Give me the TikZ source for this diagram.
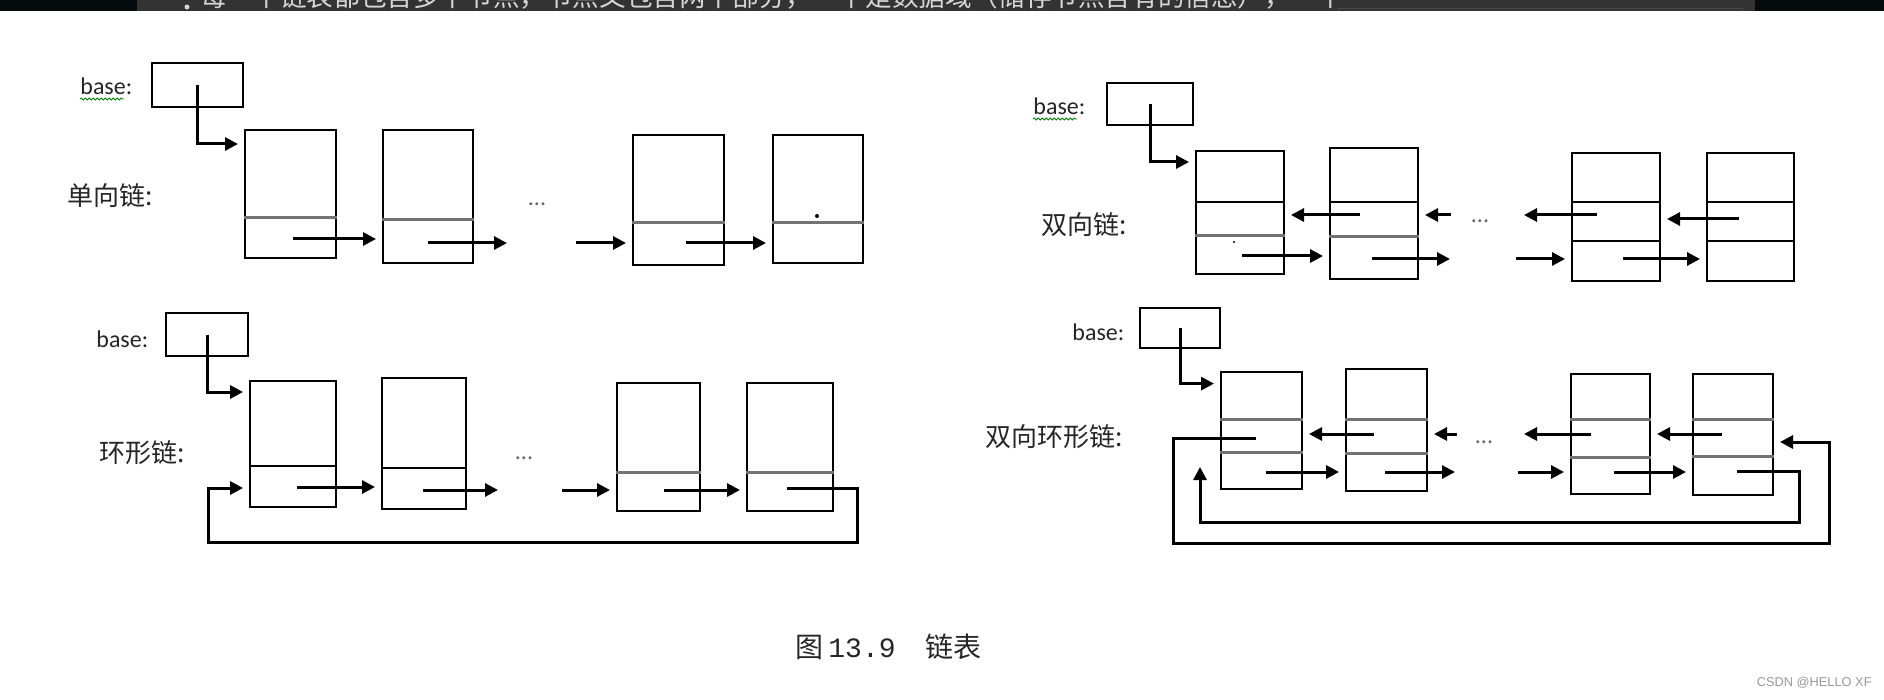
\documentclass[tikz,border=0pt]{standalone}
\usepackage{fontspec}
\setmainfont{Carlito}
\newfontfamily\cjk{Noto Sans CJK SC}
\newfontfamily\mono{Liberation Mono}
\newfontfamily\wm{Liberation Sans}
\usetikzlibrary{arrows.meta,decorations.pathmorphing}
\definecolor{edgec}{HTML}{050B0D}
\definecolor{barc}{HTML}{333333}
\definecolor{barline}{HTML}{474747}
\definecolor{bartext}{HTML}{D6D6D6}

\begin{document}
\begin{tikzpicture}[
  x = 0.5pt, y = -0.5pt,
  cell/.style 2 args = {draw, line width = 1pt, anchor = north west, inner sep = 0,
                        minimum width = #1*0.5pt, minimum height = #2*0.5pt},
  sep/.style = {line width = 1.5pt, black!55},
  div/.style = {line width = 1pt},
  ptr/.style = {line width = 1.5pt, -{Triangle[length = 6.5pt, width = 6.5pt]}},
  gap/.style = {shorten > = 3pt},
  tag/.style = {inner sep = 0, anchor = base west, text = black!85,
                font = \fontsize{12pt}{14pt}\selectfont},
  lab/.style = {inner sep = 0, anchor = west, text = black!85,
                font = \cjk\fontsize{13pt}{15pt}\selectfont},
  more/.style = {inner sep = 0, anchor = base, text = black!60,
                 font = \fontsize{12pt}{14pt}\selectfont},
  squig/.style = {green!50!black, line width = 0.4pt, decorate,
                  decoration = {snake, amplitude = 0.5pt, segment length = 2pt}}
  ]
  \useasboundingbox (0,0) rectangle (1884,700);
  \fill[white] (0,0) rectangle (1884,700);

  % top bar
  \begin{scope}
    \clip (0,0) rectangle (1884,11);
    \fill[edgec] (0,0) rectangle (1884,11);
    \fill[barc] (137,0) rectangle (1755,11);
    \draw[barline] (1338,11) -- (1338,8) -- (1742,8) -- (1742,11);
    \fill[bartext] (187,7) circle (2.5);
    \node[anchor = base west, inner sep = 0, text = bartext,
          font = \cjk\fontsize{13.3pt}{15pt}\selectfont] (top) at (200,7)
      {每一个链表都包含多个节点，节点又包含两个部分，一个是数据域（储存节点含有的信息），一个};
  \end{scope}

  % single
  \node[tag] (b1l) at (80,95) {base:};
  \draw[squig] ([yshift=-2pt]b1l.base west) -- ++(44,0);
  \node[cell={91}{44}] (b1) at (151,62) {};
  \node[lab] (l1) at (67,196) {单向链:};
  \node[cell={91}{128}] (s1) at (244,129) {};
  \node[cell={90}{133}] (s2) at (382,129) {};
  \node[cell={91}{130}] (s3) at (632,134) {};
  \node[cell={90}{128}] (s4) at (772,134) {};
  \node[more] (m1) at (537,206) {...};
  \draw[sep] (s1.west |- 0,218) -- (s1.east |- 0,218);
  \draw[sep] (s2.west |- 0,220) -- (s2.east |- 0,220);
  \draw[sep] (s3.west |- 0,223) -- (s3.east |- 0,223);
  \draw[sep] (s4.west |- 0,223) -- (s4.east |- 0,223);
  \fill (817,216) circle (2);
  \coordinate (s1n) at (293,239);
  \coordinate (s2n) at (428,243);
  \coordinate (s3n) at (686,243);
  \coordinate (sx1) at (507,243);
  \coordinate (sx2) at (576,243);
  \draw[ptr,gap] (b1.center) |- ([yshift=-7.5pt]s1.north west);
  \draw[ptr,gap] (s1n) -- (s2.west |- s1n);
  \draw[ptr] (s2n) -- (sx1);
  \draw[ptr,gap] (sx2) -- (s3.west |- sx2);
  \draw[ptr,gap] (s3n) -- (s4.west |- s3n);

  % circular
  \node[tag] (b3l) at (96,347) {base:};
  \node[cell={82}{43}] (b3) at (165,312) {};
  \node[lab] (l3) at (99,453) {环形链:};
  \node[cell={86}{126}] (c1) at (249,380) {};
  \node[cell={84}{131}] (c2) at (381,377) {};
  \node[cell={83}{128}] (c3) at (616,382) {};
  \node[cell={86}{128}] (c4) at (746,382) {};
  \node[more] (m3) at (524,459) {...};
  \draw[div] (c1.west |- 0,466) -- (c1.east |- 0,466);
  \draw[div] (c2.west |- 0,468) -- (c2.east |- 0,468);
  \draw[sep] (c3.west |- 0,472) -- (c3.east |- 0,472);
  \draw[sep] (c4.west |- 0,472) -- (c4.east |- 0,472);
  \coordinate (c1n) at (297,487);
  \coordinate (c2n) at (423,490);
  \coordinate (c3n) at (664,490);
  \coordinate (c4n) at (787,488);
  \coordinate (cx1) at (498,490);
  \coordinate (cx2) at (562,490);
  \coordinate (cr) at (857,542);
  \coordinate (cl) at (208,488);
  \draw[ptr,gap] (b3.center) |- ([yshift=-6pt]c1.north west);
  \draw[ptr,gap] (c1n) -- (c2.west |- c1n);
  \draw[ptr] (c2n) -- (cx1);
  \draw[ptr,gap] (cx2) -- (c3.west |- cx2);
  \draw[ptr,gap] (c3n) -- (c4.west |- c3n);
  \draw[ptr,gap] (c4n) -| (cr) -| (cl) -- (c1.west |- cl);

  % double
  \node[tag] (b2l) at (1033,115) {base:};
  \draw[squig] ([yshift=-2pt]b2l.base west) -- ++(44,0);
  \node[cell={86}{42}] (b2) at (1106,82) {};
  \node[lab] (l2) at (1041,225) {双向链:};
  \node[cell={88}{123}] (d1) at (1195,150) {};
  \node[cell={88}{131}] (d2) at (1329,147) {};
  \node[cell={88}{128}] (d3) at (1571,152) {};
  \node[cell={87}{128}] (d4) at (1706,152) {};
  \node[more] (m2) at (1480,223) {...};
  \draw[div] (d1.west |- 0,202) -- (d1.east |- 0,202);
  \draw[div] (d2.west |- 0,202) -- (d2.east |- 0,202);
  \draw[div] (d3.west |- 0,202) -- (d3.east |- 0,202);
  \draw[div] (d4.west |- 0,202) -- (d4.east |- 0,202);
  \draw[sep] (d1.west |- 0,236) -- (d1.east |- 0,236);
  \draw[sep] (d2.west |- 0,237) -- (d2.east |- 0,237);
  \draw[div] (d3.west |- 0,241) -- (d3.east |- 0,241);
  \draw[div] (d4.west |- 0,241) -- (d4.east |- 0,241);
  \fill (1234,242) circle (1.2);
  \coordinate (d2p) at (1360,215);
  \coordinate (d3p) at (1597,215);
  \coordinate (d4p) at (1739,219);
  \coordinate (dx1) at (1451,215);
  \coordinate (dx2) at (1524,215);
  \coordinate (d1n) at (1242,256);
  \coordinate (d2n) at (1372,259);
  \coordinate (d3n) at (1623,259);
  \coordinate (dx3) at (1450,259);
  \coordinate (dx4) at (1516,259);
  \draw[ptr,gap] (b2.center) |- ([yshift=-6pt]d1.north west);
  \draw[ptr,gap] (d2p) -- (d1.east |- d2p);
  \draw[ptr,gap] (dx1) -- (d2.east |- dx1);
  \draw[ptr] (d3p) -- (dx2);
  \draw[ptr,gap] (d4p) -- (d3.east |- d4p);
  \draw[ptr,gap] (d1n) -- (d2.west |- d1n);
  \draw[ptr] (d2n) -- (dx3);
  \draw[ptr,gap] (dx4) -- (d3.west |- dx4);
  \draw[ptr,gap] (d3n) -- (d4.west |- d3n);

  % double circular
  \node[tag] (b4l) at (1072,340) {base:};
  \node[cell={80}{40}] (b4) at (1139,307) {};
  \node[lab] (l4) at (985,437) {双向环形链:};
  \node[cell={81}{117}] (e1) at (1220,371) {};
  \node[cell={81}{122}] (e2) at (1345,368) {};
  \node[cell={79}{120}] (e3) at (1570,373) {};
  \node[cell={80}{121}] (e4) at (1692,373) {};
  \node[more] (m4) at (1484,443) {...};
  \draw[sep] (e1.west |- 0,419) -- (e1.east |- 0,419);
  \draw[sep] (e2.west |- 0,419) -- (e2.east |- 0,419);
  \draw[sep] (e3.west |- 0,419) -- (e3.east |- 0,419);
  \draw[sep] (e4.west |- 0,419) -- (e4.east |- 0,419);
  \draw[sep] (e1.west |- 0,452) -- (e1.east |- 0,452);
  \draw[sep] (e2.west |- 0,453) -- (e2.east |- 0,453);
  \draw[sep] (e3.west |- 0,457) -- (e3.east |- 0,457);
  \draw[sep] (e4.west |- 0,456) -- (e4.east |- 0,456);
  \coordinate (e1p) at (1256,438);
  \coordinate (e2p) at (1374,434);
  \coordinate (e3p) at (1591,434);
  \coordinate (e4p) at (1722,434);
  \coordinate (ex1) at (1457,434);
  \coordinate (ex2) at (1524,434);
  \coordinate (e1n) at (1266,472);
  \coordinate (e2n) at (1385,472);
  \coordinate (e3n) at (1614,472);
  \coordinate (e4n) at (1737,471);
  \coordinate (ex3) at (1455,472);
  \coordinate (ex4) at (1518,472);
  \coordinate (ol) at (1173,543);
  \coordinate (or) at (1829,442);
  \coordinate (ir) at (1799,522);
  \coordinate (il) at (1200,467);
  \draw[ptr,gap] (b4.center) |- ([yshift=-6.3pt]e1.north west);
  \draw[ptr,gap] (e2p) -- (e1.east |- e2p);
  \draw[ptr,gap] (ex1) -- (e2.east |- ex1);
  \draw[ptr] (e3p) -- (ex2);
  \draw[ptr,gap] (e4p) -- (e3.east |- e4p);
  \draw[ptr,gap] (e1n) -- (e2.west |- e1n);
  \draw[ptr] (e2n) -- (ex3);
  \draw[ptr,gap] (ex4) -- (e3.west |- ex4);
  \draw[ptr,gap] (e3n) -- (e4.west |- e3n);
  \draw[ptr,gap] (e1p) -| (ol) -| (or) -- (e4.east |- or);
  \draw[ptr] (e4n) -| (ir) -| (il);

  \node[anchor = west, inner sep = 0, text = black!85,
        font = \cjk\fontsize{14pt}{16pt}\selectfont] (cap) at (795,647)
    {图\hspace{2.5pt}{\mono 13.9}\hspace{15pt}链表};
  \node[anchor = east, inner sep = 0, text = black!40,
        font = \wm\fontsize{6.4pt}{8pt}\selectfont] (mark) at (1872,683) {CSDN @HELLO XF};
\end{tikzpicture}
\end{document}
